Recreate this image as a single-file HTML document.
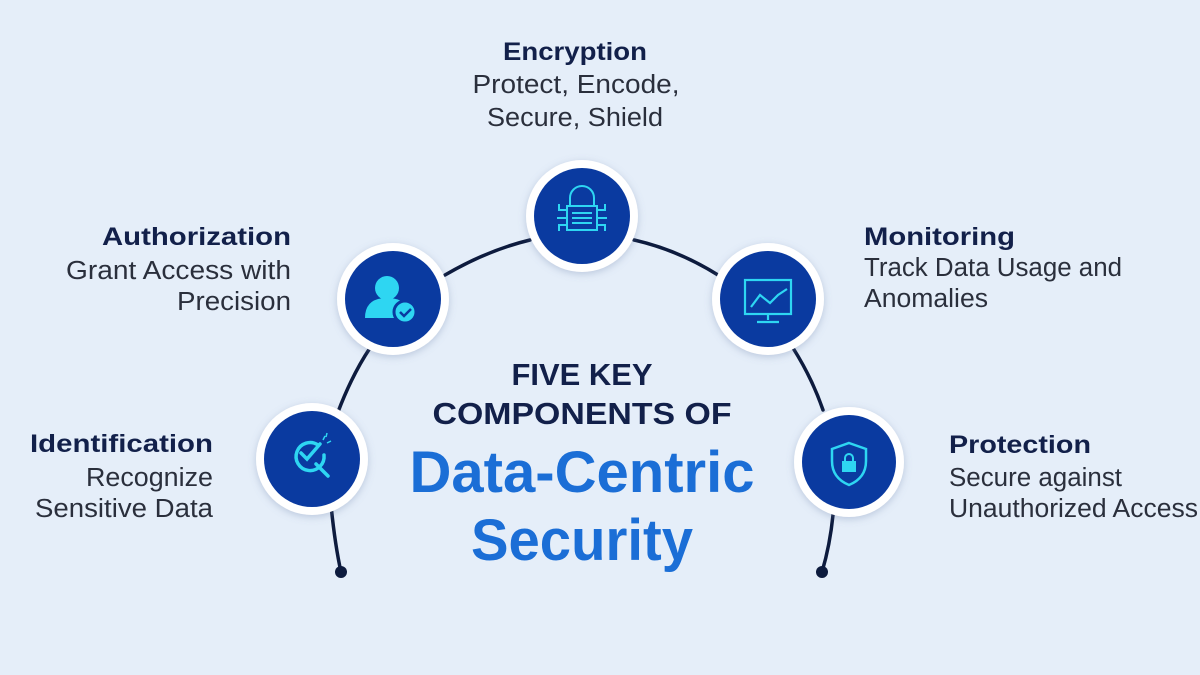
<!DOCTYPE html>
<html><head><meta charset="utf-8"><style>
html,body{margin:0;padding:0;background:#e5eef9;}
svg{display:block;}
text{font-family:"Liberation Sans",sans-serif;}
</style></head><body>
<svg width="1200" height="675" viewBox="0 0 1200 675" xmlns="http://www.w3.org/2000/svg">
<defs>
<filter id="sh" x="-30%" y="-30%" width="160%" height="160%"><feDropShadow dx="0" dy="2" stdDeviation="4" flood-color="#6a7fa8" flood-opacity="0.35"/></filter>
</defs>
<rect width="1200" height="675" fill="#e5eef9"/>
<g fill="none" stroke="#0d1b3e" stroke-width="3.5" stroke-linecap="round">
<path d="M341,572 Q335,545 331,505"/>
<path d="M338,412 Q352,375 370,348"/>
<path d="M445,275 Q488,250 530,240"/>
<path d="M634,240 Q678,250 718,275"/>
<path d="M793,348 Q812,378 823,410"/>
<path d="M833,515 Q830,545 822,572"/>
</g>
<circle cx="341" cy="572" r="6" fill="#0d1b3e"/>
<circle cx="822" cy="572" r="6" fill="#0d1b3e"/>

<g filter="url(#sh)" fill="#fff">
<circle cx="582" cy="216" r="56"/>
<circle cx="393" cy="299" r="56"/>
<circle cx="768" cy="299" r="56"/>
<circle cx="312" cy="459" r="56"/>
<circle cx="849" cy="462" r="55"/>
</g>
<g fill="#0a3aa0">
<circle cx="582" cy="216" r="48"/>
<circle cx="393" cy="299" r="48"/>
<circle cx="768" cy="299" r="48"/>
<circle cx="312" cy="459" r="48"/>
<circle cx="849" cy="462" r="47"/>
</g>

<g stroke="#2ed6f2" stroke-width="2" fill="none">
<path d="M570,206 v-8 a12,12 0 0 1 24,0 v8"/>
<rect x="567" y="206" width="30" height="24"/>
<path d="M572,213h20M572,218h20M572,223h20"/>
<path d="M567,210h-8v-6M567,218h-10M567,225h-8v6M597,210h8v-6M597,218h10M597,225h8v6"/>
</g>
<g fill="#2ed6f2">
<circle cx="387" cy="288" r="12"/>
<path d="M365,318 q0,-20 22,-20 q14,0 20,8 v12 z"/>
<circle cx="405" cy="312" r="11" stroke="#0a3aa0" stroke-width="3"/>
</g>
<path d="M400,312 l4,4 l7,-7" stroke="#0a3aa0" stroke-width="2.5" fill="none"/>
<g stroke="#2ed6f2" stroke-width="2.2" fill="none">
<rect x="745" y="280" width="46" height="34"/>
<path d="M768,314v6M757,322h22"/>
<path d="M751,307 l9,-12 l10,8 l8,-8 l9,-6"/>
</g>
<g stroke="#2ed6f2" stroke-width="3.5" fill="none" stroke-linecap="round">
<path d="M318,445 a14,14 0 1 0 6,10"/>
<path d="M316,464 l12,12"/>
<path d="M301,453 l6,6 l13,-15"/>
</g>
<g stroke="#2ed6f2" stroke-width="1.5"><path d="M323,440l2,-4M327,443l4,-2M326,437l1,-4"/></g>
<path d="M849,443 l17,6 v12 q0,17 -17,24 q-17,-7 -17,-24 v-12 z" stroke="#2ed6f2" stroke-width="2.5" fill="none"/>
<rect x="842" y="461" width="14" height="11" fill="#2ed6f2"/>
<path d="M845,462v-4a4,4 0 0 1 8,0v4" stroke="#2ed6f2" stroke-width="2" fill="none"/>

<g text-anchor="middle" font-weight="bold">
<text x="582" y="385" font-size="31" fill="#12204a" textLength="141" lengthAdjust="spacingAndGlyphs">FIVE KEY</text>
<text x="582" y="424" font-size="31" fill="#12204a" textLength="299" lengthAdjust="spacingAndGlyphs">COMPONENTS OF</text>
<text x="582" y="492" font-size="58" fill="#1b6ed6" textLength="345" lengthAdjust="spacingAndGlyphs">Data-Centric</text>
<text x="582" y="560" font-size="58" fill="#1b6ed6" textLength="222" lengthAdjust="spacingAndGlyphs">Security</text>
</g>

<g font-size="25.5" fill="#2a2f3c">
<g text-anchor="middle">
<text x="575" y="60" font-weight="bold" font-size="25" fill="#12204a" textLength="144" lengthAdjust="spacingAndGlyphs">Encryption</text>
<text x="576" y="93" textLength="207" lengthAdjust="spacingAndGlyphs">Protect, Encode,</text>
<text x="575" y="126" textLength="176" lengthAdjust="spacingAndGlyphs">Secure, Shield</text>
</g>
<g text-anchor="end">
<text x="291" y="245" font-weight="bold" font-size="25" fill="#12204a" textLength="189" lengthAdjust="spacingAndGlyphs">Authorization</text>
<text x="291" y="279" textLength="225" lengthAdjust="spacingAndGlyphs">Grant Access with</text>
<text x="291" y="310" textLength="114" lengthAdjust="spacingAndGlyphs">Precision</text>
<text x="213" y="452" font-weight="bold" font-size="25" fill="#12204a" textLength="183" lengthAdjust="spacingAndGlyphs">Identification</text>
<text x="213" y="486" textLength="127" lengthAdjust="spacingAndGlyphs">Recognize</text>
<text x="213" y="517" textLength="178" lengthAdjust="spacingAndGlyphs">Sensitive Data</text>
</g>
<text x="864" y="245" font-weight="bold" font-size="25" fill="#12204a" textLength="151" lengthAdjust="spacingAndGlyphs">Monitoring</text>
<text x="864" y="276" textLength="258" lengthAdjust="spacingAndGlyphs">Track Data Usage and</text>
<text x="864" y="307" textLength="124" lengthAdjust="spacingAndGlyphs">Anomalies</text>
<text x="949" y="453" font-weight="bold" font-size="25" fill="#12204a" textLength="142" lengthAdjust="spacingAndGlyphs">Protection</text>
<text x="949" y="486" textLength="173" lengthAdjust="spacingAndGlyphs">Secure against</text>
<text x="949" y="517" textLength="249" lengthAdjust="spacingAndGlyphs">Unauthorized Access</text>
</g>
</svg>
</body></html>
